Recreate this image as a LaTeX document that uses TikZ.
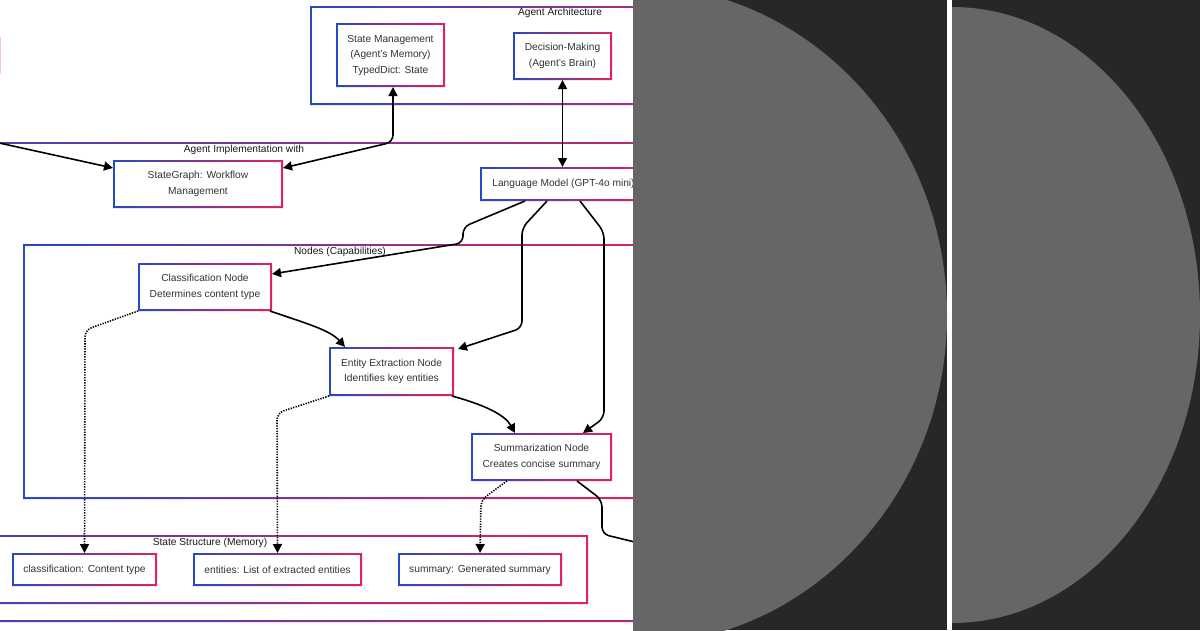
\documentclass[tikz,border=0pt]{standalone}
\usepackage{fontspec}
\setmainfont{Liberation Sans}
\usepackage{tikz}
\usetikzlibrary{arrows.meta}

\definecolor{edgeblue}{RGB}{40,72,196}
\definecolor{edgered}{RGB}{228,32,92}
\definecolor{inktext}{RGB}{51,51,51}
\definecolor{panelbg}{RGB}{39,39,39}
\definecolor{discgrey}{RGB}{102,102,102}

\begin{document}
\begin{tikzpicture}[x=1pt,y=-1pt,
  box/.style={inner sep=0pt,outer sep=0pt,align=center,text=inktext,
    font=\fontsize{10.2}{15.5}\selectfont},
  title/.style={inner sep=0pt,text=black!90,font=\fontsize{10.2}{12}\selectfont},
  link/.style={line width=1.6pt,rounded corners=7pt,-{Triangle[length=9pt,width=9pt]}},
  twoway/.style={link,{Triangle[length=9pt,width=9pt]}-{Triangle[length=9pt,width=9pt]}},
  memlink/.style={link,dash pattern=on 1.3pt off 1.3pt}]
\useasboundingbox (0,0) rectangle (1200,630);
\clip (0,0) rectangle (1200,630);
\fill[white] (0,0) rectangle (1200,630);

% subgraphs
\node[box,minimum width=500pt,minimum height=99pt] (archbox) at (560,55.5) {};
\node[box,minimum width=1100pt,minimum height=480pt] (implbox) at (350,382) {};
\node[box,minimum width=634pt,minimum height=255pt] (capbox) at (340,371.5) {};
\node[box,minimum width=756pt,minimum height=69pt] (membox) at (210,569.5) {};
\node[title] (archtitle) at ([yshift=-7pt]archbox.north) {Agent Architecture};
\node[title] (impltitle) at (244,150) {Agent Implementation with};
\node[title] (captitle) at ([yshift=-8pt]capbox.north) {Nodes (Capabilities)};
\node[title] (memtitle) at ([yshift=-8pt]membox.north) {State Structure (Memory)};

% nodes
\node[box,minimum width=121pt,minimum height=35pt,draw=edgered!25,line width=1.2pt] (ghost) at (-59.8,55.5) {};
\node[box,minimum width=109pt,minimum height=64pt] (sm) at (390.5,55) {State Management\\(Agent's Memory)\\TypedDict: State};
\node[box,minimum width=99pt,minimum height=48pt] (dm) at (562.5,56) {Decision-Making\\(Agent's Brain)};
\node[box,minimum width=170pt,minimum height=48pt] (sg) at (198,184) {StateGraph: Workflow\\Management};
\node[box,minimum width=167pt,minimum height=34pt] (lm) at (563.5,184) {Language Model (GPT-4o mini)};
\node[box,minimum width=134pt,minimum height=48pt] (cn) at (205,287) {Classification Node\\Determines content type};
\node[box,minimum width=125pt,minimum height=49pt] (ee) at (391.5,371.5) {Entity Extraction Node\\Identifies key entities};
\node[box,minimum width=141pt,minimum height=48pt] (sn) at (541.5,457) {Summarization Node\\Creates concise summary};
\node[box,minimum width=145pt,minimum height=33pt] (ca) at (84.5,569.5) {classification: Content type};
\node[box,minimum width=169pt,minimum height=33pt] (en) at (277.5,569.5) {entities: List of extracted entities};
\node[box,minimum width=164pt,minimum height=33pt] (su) at (480,569.5) {summary: Generated summary};

% gradient borders
\foreach \n in {archbox,implbox,capbox,membox,sm,dm,sg,lm,cn,ee,sn,ca,en,su}
  \shade[left color=edgeblue,right color=edgered,even odd rule]
    (\n.south west) rectangle (\n.north east)
    ([shift={(1.8pt,1.8pt)}]\n.south west) rectangle ([shift={(-1.8pt,-1.8pt)}]\n.north east);

% connectors
\coordinate (src) at (-60,130);
\coordinate (sink) at (700,558);
\draw[link] (src) -- ([yshift=16pt]sg.west);
\draw[twoway] ([xshift=2.5pt]sm.south) -- (393,142) -- ([yshift=16pt]sg.east);
\draw[twoway] (dm.south) -- (dm.south |- lm.north);
\draw[link] ([xshift=-38.5pt]lm.south) -- (463,227) -- (463,243) -- ([yshift=13pt]cn.east);
\draw[link] ([xshift=-16.5pt]lm.south) -- (522,228) -- (522,328) -- ([xshift=4pt,yshift=-2pt]ee.north east);
\draw[link] ([xshift=16.5pt]lm.south) -- (604,232) -- (604,418) -- ([xshift=-29pt]sn.north east);
\draw[link] ([xshift=-2pt]cn.south east) .. controls (305,323) and (330,330) .. ([xshift=16pt]ee.north west);
\draw[link] ([xshift=-2pt]ee.south east) .. controls (485,405) and (505,415) .. ([xshift=44pt]sn.north west);
\draw[link,-] ([xshift=-35pt]sn.south east) -- (602,500) -- (602,534) -- (sink);
\draw[memlink] (cn.south west) -- (85,330) -- (ca.north);
\draw[memlink] (ee.south west) -- (277,413) -- (en.north);
\draw[memlink] ([xshift=36pt]sn.south west) -- (481,500) -- (su.north);

% side panels
\fill[panelbg] (633,0) rectangle (947,630);
\fill[panelbg] (952,0) rectangle (1200,630);
\begin{scope}
\clip (633,0) rectangle (947,630);
\fill[discgrey] (633,315) ellipse [x radius=314, y radius=330];
\end{scope}
\begin{scope}
\clip (952,0) rectangle (1200,630);
\fill[discgrey] (952,315) ellipse [x radius=248, y radius=308];
\end{scope}
\end{tikzpicture}
\end{document}
